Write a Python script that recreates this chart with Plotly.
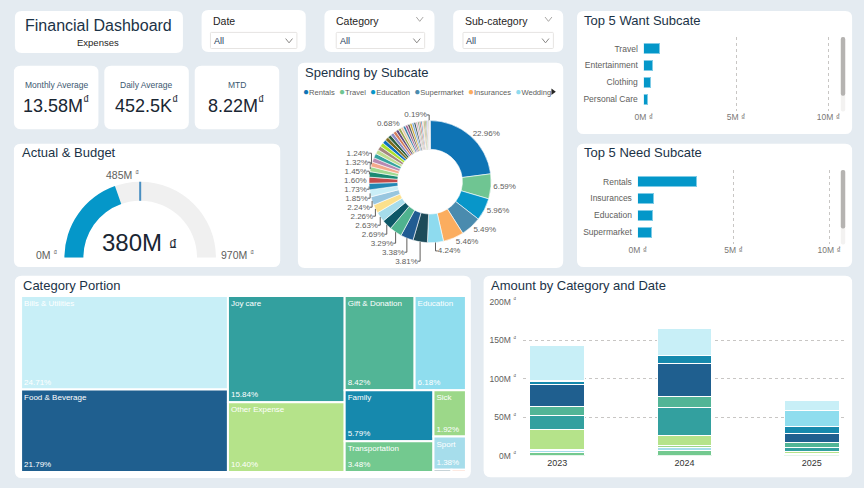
import plotly.graph_objects as go

W, H = 864, 488


def X(v):
    return v / W


def Y(v):
    return 1 - v / H


FONT = "Segoe UI, Liberation Sans, Arial, sans-serif"
PAGE_BG = "#E4EBF1"
INK = "#1B3347"
GREY = "#605E5C"
LIGHT = "#7A7876"
BAR_BLUE = "#0497C9"
BAR_EDGE = "#7FCBE6"

# ---------------- data ----------------
kpi_labels = ["Monthly Average", "Daily Average", "MTD"]
kpi_values = [13.58, 452.5, 8.22]
kpi_units = ["M", "K", "M"]

filter_names = ["Date", "Category", "Sub-category"]
filter_values = ["All", "All", "All"]

gauge_actual = 380
gauge_budget = 485
gauge_max = 970

want_names = ["Travel", "Entertainment", "Clothing", "Personal Care"]
want_values = [0.87, 0.48, 0.34, 0.20]
need_names = ["Rentals", "Insurances", "Education", "Supermarket"]
need_values = [3.08, 0.84, 0.79, 0.72]
top_ticks = [0, 5, 10]

subcat_names = [
    "Rentals", "Travel", "Education", "Supermarket", "Insurances", "Wedding",
    "Restaurants", "Entertainment", "Electricity", "Clothing", "Fuel", "Medicine",
    "Internet", "Personal Care", "Phone", "Water", "Gifts", "Charity", "Parking",
    "Books", "Sports", "Doctor", "Taxi", "Snacks", "Streaming", "Household",
    "Pets", "Gym", "Cosmetics", "Haircut", "Coffee",
    "Parents",
    "Kids", "Furniture", "Repairs", "Games", "Music", "Movies", "Software",
    "Subscriptions", "Laundry", "Stationery", "Postage", "Bank Fees", "Tolls",
    "Toys", "Flowers", "Tips",
    "Lottery",
    "Misc", "Fines",
]
subcat_values = [
    22.96, 6.59, 5.96, 5.49, 5.46, 4.24,
    3.81, 3.38, 3.29, 2.69, 2.63, 2.26,
    2.24, 1.85, 1.73, 1.60, 1.45, 1.32, 1.24,
    1.22, 1.19, 1.15, 1.11, 1.07, 1.02, 0.97,
    0.92, 0.87, 0.82, 0.77, 0.72,
    0.68,
    0.66, 0.63, 0.60, 0.57, 0.54, 0.51, 0.48,
    0.45, 0.42, 0.39, 0.36, 0.33, 0.30,
    0.27, 0.24, 0.22,
    0.19,
    0.09, 0.05,
]
subcat_labeled = set(subcat_names[:19] + ["Parents", "Lottery"])
pie_colors = [
    "#0F74B5", "#6FC592", "#0896C9", "#4A8BAE", "#FBAD5F", "#8EDBEF",
    "#1D4B5A", "#215C92", "#4FB38F", "#0D5767", "#A6DCEB", "#FBE08C",
    "#98C6DF", "#C9EEF7", "#2387B4", "#C24B4B", "#1B8A72", "#9FD991",
    "#F4A98B", "#B98AB2", "#36A3A0", "#BFDD8F", "#A5887F", "#ADE22F",
    "#0B6FBF", "#7D6B1D", "#2D6140", "#8D8DC4", "#D47D5C", "#5F4B7B",
    "#9AA94E", "#E8C9A6", "#3E7FA7", "#A55D8F", "#5B5B5B", "#CAA328",
    "#70A0D9", "#304F50", "#DAA1B5", "#80A480", "#B65E4D", "#4783B5",
    "#FFB7A1", "#6B8E23", "#8B4513", "#2E8B57", "#9370DB", "#CD853F",
    "#20B2AA", "#778899", "#BC8F8F",
]
legend_count = 6

cat_names = ["Bills & Utilities", "Food & Beverage", "Joy care", "Other Expense",
             "Gift & Donation", "Education", "Family", "Transportation", "Sick",
             "Sport", "Debt", "Pet"]
cat_share = [24.71, 21.79, 15.84, 10.40, 8.42, 6.18, 5.79, 3.48, 1.92, 1.38, 0.05, 0.04]
cat_colors = ["#C8EFF7", "#1F5F8F", "#33A09F", "#B5E38A", "#52B596", "#8FDDEE",
              "#1689AD", "#73C98F", "#9CD889", "#A6DDEB", "#1F4E5F", "#F5A586"]

years = ["2023", "2024", "2025"]
stack_order = ["Transportation", "Sport", "Sick", "Other Expense", "Joy care",
               "Gift & Donation", "Food & Beverage", "Family", "Education",
               "Bills & Utilities"]
amount_2023 = [4.2, 2.6, 1.7, 25.4, 17.8, 12.8, 27.4, 4.3, 1.3, 45.8]
amount_2024 = [7.0, 3.6, 3.0, 13.1, 36.0, 14.8, 42.8, 9.8, 0.5, 34.7]
amount_2025 = [1.3, 0.8, 0.9, 2.5, 5.5, 5.5, 11.9, 8.9, 21.6, 13.1]
amount_ticks = [0, 50, 100, 150, 200]

# ---------------- helpers ----------------
shapes = []
annotations = []


def rrect(x0, y0, x1, y1, r=7, fill="white", line_color=None, line_width=0):
    X0, X1, Y0, Y1 = X(x0), X(x1), Y(y0), Y(y1)
    rx, ry = r / W, r / H
    path = (f"M {X0+rx},{Y0} L {X1-rx},{Y0} Q {X1},{Y0} {X1},{Y0-ry} "
            f"L {X1},{Y1+ry} Q {X1},{Y1} {X1-rx},{Y1} L {X0+rx},{Y1} "
            f"Q {X0},{Y1} {X0},{Y1+ry} L {X0},{Y0-ry} Q {X0},{Y0} {X0+rx},{Y0} Z")
    shapes.append(dict(type="path", xref="paper", yref="paper", path=path,
                       fillcolor=fill, layer="below",
                       line=dict(color=line_color or fill, width=line_width)))


def chevron(cx, cy, w=3.5, h=2.2, color="#8A8886"):
    path = (f"M {X(cx-w)},{Y(cy-h)} L {X(cx)},{Y(cy+h)} L {X(cx+w)},{Y(cy-h)}")
    shapes.append(dict(type="path", xref="paper", yref="paper", path=path,
                       line=dict(color=color, width=1), layer="above"))


def text(x, y, s, size, color=INK, anchor="left"):
    annotations.append(dict(x=X(x), y=Y(y), xref="paper", yref="paper", text=s,
                            showarrow=False, xanchor=anchor, yanchor="middle",
                            font=dict(size=size, color=color, family=FONT)))


# ---------------- cards ----------------
cards = [
    (6, 5, 177, 48), (196, 4, 302, 47), (321, 4, 433, 47), (452, 4, 564, 47),
    (578, 5, 858, 131), (5, 61, 91, 126), (97, 61, 183, 126), (189, 61, 275, 126),
    (294, 58, 564, 268), (5, 141, 276, 267), (578, 141, 858, 267),
    (6, 276, 470, 483), (483, 276, 858, 482),
]
for c in cards:
    rrect(*c)

# title card
text(91, 20, "Financial Dashboard", 16, INK, "center")
text(91, 37, "Expenses", 9.5, "#252423", "center")

# filters
filter_title_x = [207, 332, 463]
filter_box = [(205, 27, 293), (333, 27, 423), (462, 27, 554)]
for i, name in enumerate(filter_names):
    text(filter_title_x[i] - 1, 15, name, 10.5, "#252423")
    bx0, by0, bx1 = filter_box[i]
    rrect(bx0, by0, bx1, 43.5, r=1, fill="white", line_color="#E6E4E2", line_width=1)
    text(bx0 + 1.5, 35.5, filter_values[i], 9, "#1E3A5A")
    chevron(bx1 - 8, 35.5)
    if i > 0:
        chevron(cards[i + 1][2] - 15, 13.5, color="#A8A6A4")

# KPI cards
kpi_cx = [48, 140, 232]
for i in range(3):
    text(kpi_cx[i], 81, kpi_labels[i], 8.5, "#3B5770", "center")
    text(kpi_cx[i], 101, f"{kpi_values[i]:g}{kpi_units[i]}<sup>₫</sup>", 18, "#1A2633", "center")

# titles
text(299, 68, "Spending by Subcate", 13, INK)
text(583, 14.5, "Top 5 Want Subcate", 13, INK)
text(583, 150, "Top 5 Need Subcate", 13, INK)
text(11, 150, "Actual & Budget", 13, INK)
text(12, 286, "Category Portion", 13, INK)
text(488, 286, "Amount by Category and Date", 13, INK)

# donut legend
legend_text = "  ".join(
    f"<span style='color:{pie_colors[i]};font-size:10px'>●</span>{subcat_names[i]}"
    for i in range(legend_count))
text(297, 87.7, legend_text, 7.6, GREY)
shapes.append(dict(type="path", xref="paper", yref="paper",
                   path=f"M {X(552)},{Y(84.5)} L {X(556.5)},{Y(87.7)} L {X(552)},{Y(91)} Z",
                   fillcolor="#252423", line=dict(width=0)))

# scrollbars on top-5 cards
for (t0, t1, t2) in [(31.7, 91.7, 108), (167.7, 227.7, 244)]:
    rrect(846.5, t0, 851, t2, r=2, fill="#F3F2F1")
    rrect(846.5, t0, 851, t1, r=2, fill="#B5B3B1")

# ---------------- traces ----------------
fig = go.Figure()

fig.add_trace(go.Bar(x=want_values, y=want_names, orientation="h", width=0.58,
                     marker=dict(color=BAR_BLUE, line=dict(color=BAR_EDGE, width=1)),
                     xaxis="x", yaxis="y", hovertemplate="%{y}: %{x}M ₫<extra></extra>"))
fig.add_trace(go.Bar(x=need_values, y=need_names, orientation="h", width=0.58,
                     marker=dict(color=BAR_BLUE, line=dict(color=BAR_EDGE, width=1)),
                     xaxis="x2", yaxis="y2", hovertemplate="%{y}: %{x}M ₫<extra></extra>"))

pie_pos = ["outside" if n in subcat_labeled else "none" for n in subcat_names]
fig.add_trace(go.Pie(
    labels=subcat_names, values=subcat_values, hole=0.53, sort=False,
    direction="clockwise", rotation=0,
    marker=dict(colors=pie_colors, line=dict(color="white", width=0.6)),
    textposition=pie_pos, texttemplate="%{percent:.2%}",
    textfont=dict(size=8, color=GREY, family=FONT), showlegend=False,
    domain=dict(x=[X(366), X(491)], y=[Y(242.2), Y(117.2)])))

fig.add_trace(go.Indicator(
    mode="gauge", value=gauge_actual,
    domain=dict(x=[X(56), X(211)], y=[Y(257.3), Y(179.8)]),
    gauge=dict(shape="angular",
               axis=dict(range=[0, gauge_max], visible=False),
               bar=dict(color="#0597C9", thickness=1),
               bgcolor="#F0F0F0", borderwidth=0,
               threshold=dict(value=gauge_budget, thickness=1,
                              line=dict(color="#4A8FC1", width=2)))))
text(133, 242, f"{gauge_actual}M <span style='font-size:17px'>₫</span>", 24, "#1A2633", "center")
text(52, 254, "0M <sup>₫</sup>", 10.5, GREY, "right")
text(116, 172, f"{gauge_budget}M <sup>₫</sup>", 10.5, GREY, "center")
text(214, 254, f"{gauge_max}M <sup>₫</sup>", 10.5, GREY, "left")

tm_common = dict(labels=cat_names, parents=[""] * len(cat_names), values=cat_share,
                 domain=dict(x=[X(12.3), X(465)], y=[Y(476.7), Y(296.7)]),
                 tiling=dict(squarifyratio=1.618, pad=0),
                 pathbar=dict(visible=False), sort=True)
tm_name_tpl = ["%{label}" if v >= 0.5 else "" for v in cat_share]
tm_pct_tpl = ["%{percentRoot:.2%}" if v >= 0.5 else "" for v in cat_share]
fig.add_trace(go.Treemap(
    **tm_common,
    marker=dict(colors=cat_colors, line=dict(color="white", width=2),
                pad=dict(t=0, l=0, r=0, b=0)),
    texttemplate=tm_name_tpl, textposition="top left",
    textfont=dict(size=8, color="white", family=FONT),
    hovertemplate="%{label}<extra></extra>"))
fig.add_trace(go.Treemap(
    **tm_common,
    marker=dict(colors=["rgba(0,0,0,0)"] * len(cat_names), line=dict(width=0),
                pad=dict(t=0, l=0, r=0, b=0)),
    texttemplate=tm_pct_tpl, textposition="bottom left",
    textfont=dict(size=8, color="white", family=FONT),
    hovertemplate="%{label}: %{percentRoot:.2%}<extra></extra>"))

color_of = dict(zip(cat_names, cat_colors))
for i, name in enumerate(stack_order):
    fig.add_trace(go.Bar(
        x=years, y=[amount_2023[i], amount_2024[i], amount_2025[i]], name=name,
        width=0.43, marker=dict(color=color_of[name], line=dict(color="white", width=1)),
        xaxis="x3", yaxis="y3", hovertemplate=name + " %{x}: %{y}M ₫<extra></extra>"))


def hx(domain, anchor):
    return dict(domain=domain, range=[0, 10.3], tickvals=top_ticks,
                ticktext=[f"{t}M ₫" for t in top_ticks], showgrid=True,
                gridcolor="#C8C6C4", griddash="dot", gridwidth=1, zeroline=False,
                showline=False, ticks="", anchor=anchor, fixedrange=True,
                tickfont=dict(size=8.5, color=LIGHT, family=FONT))


def hy(domain, anchor):
    return dict(domain=domain, range=[3.67, -0.67], type="category", showgrid=False,
                zeroline=False, ticks="", anchor=anchor, fixedrange=True,
                ticklabelstandoff=5, tickfont=dict(size=8.5, color=GREY, family=FONT))


fig.update_layout(
    width=W, height=H, margin=dict(l=0, r=0, t=0, b=0),
    paper_bgcolor=PAGE_BG, plot_bgcolor="rgba(0,0,0,0)",
    showlegend=False, barmode="stack", font=dict(family=FONT),
    xaxis=hx([X(646), X(839.6)], "y"), yaxis=hy([Y(107), Y(32)], "x"),
    xaxis2=hx([X(640), X(840.5)], "y2"), yaxis2=hy([Y(243), Y(168)], "x2"),
    xaxis3=dict(domain=[X(523.3), X(851.7)], type="category", range=[-0.268, 2.268],
                anchor="y3", showgrid=False, zeroline=False, ticks="", fixedrange=True,
                tickfont=dict(size=9, color="#333333", family=FONT)),
    yaxis3=dict(domain=[Y(460), Y(302.7)], range=[0, 200], tickvals=amount_ticks,
                ticktext=[f"{t}M <sup>₫</sup>" for t in amount_ticks], showgrid=True,
                griddash="dot", gridcolor="#C8C6C4", zeroline=False, ticks="",
                anchor="x3", fixedrange=True, ticklabelstandoff=6,
                tickfont=dict(size=8.5, color=GREY, family=FONT)),
    shapes=shapes, annotations=annotations,
)

fig.write_html(
    "out.html",
    config={"displayModeBar": False},
    post_script=("document.body.style.margin='0';"
                 "document.body.style.overflow='hidden';"
                 f"document.body.style.background='{PAGE_BG}';"),
)
